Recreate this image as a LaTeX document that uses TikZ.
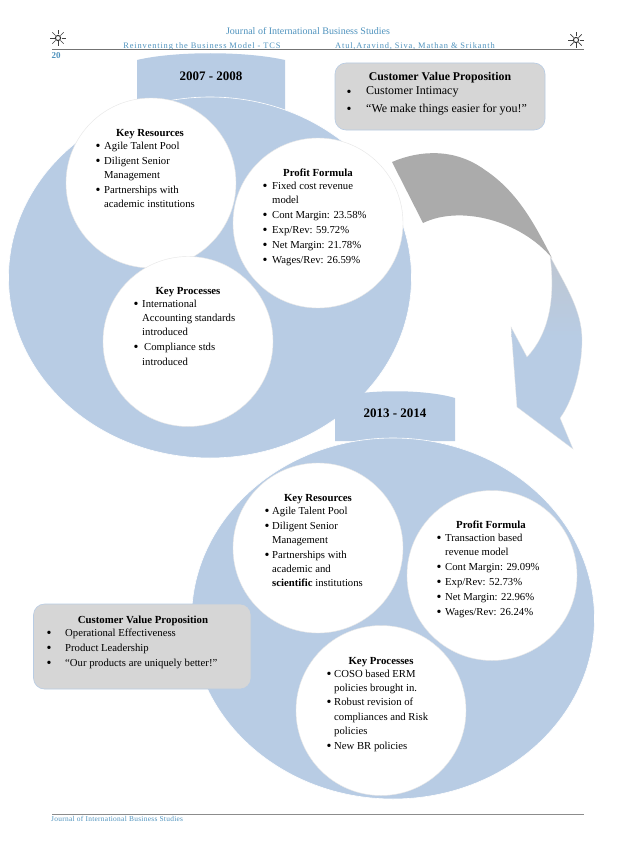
\documentclass[tikz,border=0pt]{standalone}
\usepackage{fontspec}
\setmainfont{Liberation Serif}
\usetikzlibrary{shapes.geometric}
\definecolor{bluefill}{HTML}{B8CCE4}
\definecolor{grayfill}{HTML}{D6D6D6}
\definecolor{arrowgray}{HTML}{ABABAB}
\definecolor{arrowtop}{HTML}{BEC6D1}
\definecolor{headblue}{HTML}{4F93BE}
\pgfdeclareverticalshading{arrowshade}{100bp}{color(0bp)=(bluefill); color(54bp)=(bluefill); color(75bp)=(arrowtop); color(100bp)=(arrowtop)}
\tikzset{x=1pt,y=-1pt,
 disc/.style={circle,fill=white,draw=black!10,line width=0.4pt,minimum size=170pt,inner sep=0pt},
 big/.style={ellipse,fill=bluefill,draw=white,line width=0.6pt,inner sep=0pt,minimum width=403pt,minimum height=361pt},
 txt/.style={anchor=base west,yshift=-4pt,inner sep=0pt,font=\fontsize{10.7}{12}\selectfont},
 bul/.style={inner sep=0pt,anchor=base,yshift=-5pt,font=\fontsize{14}{14}\selectfont},
 ttl/.style={anchor=base,yshift=-4pt,inner sep=0pt,font=\bfseries\fontsize{10.8}{12}\selectfont},
 ttlb/.style={anchor=base,yshift=-4pt,inner sep=0pt,font=\bfseries\fontsize{11.8}{14}\selectfont},
 yr/.style={inner sep=0pt,font=\bfseries\fontsize{13}{15}\selectfont},
 lgtxt/.style={anchor=base west,yshift=-4pt,inner sep=0pt,font=\fontsize{12}{14}\selectfont},
 head/.style={inner sep=0pt,text=headblue},
 cvp/.style={fill=grayfill,draw=bluefill,line width=0.6pt,rounded corners=11pt},
 hrule/.style={draw=black!55,line width=0.7pt}}
\begin{document}
\begin{tikzpicture}
\useasboundingbox (0,0) rectangle (638,851);
\fill[white] (0,0) rectangle (638,851);
% header
\node[head,font=\fontsize{10}{12}\selectfont] (j) at (308,31) {Journal of International Business Studies};
\node[head,font=\fontsize{8.4}{10}\selectfont\addfontfeatures{LetterSpace=10}] (h1) at (202,46) {Reinventing the Business Model - TCS};
\node[head,font=\fontsize{8.4}{10}\selectfont\addfontfeatures{LetterSpace=10}] (h2) at (415,46) {Atul,Aravind, Siva, Mathan \& Srikanth};
\coordinate (ra) at (52,49.5); \coordinate (rb) at (584,49.5);
\draw[hrule] (ra) -- (rb);
\node[head,anchor=west,font=\bfseries\fontsize{9}{10}\selectfont] (pg) at (51.5,56) {20};
\foreach \cx/\cy/\nm in {58/38/sa,576/40/sb}{
  \coordinate (\nm) at (\cx,\cy);
  \foreach \a in {0,45,...,315}{\draw[black!75,line width=0.7pt] (\nm) ++(\a:3.5) -- ++(\a:4.5);}
  \draw[black!80,line width=1pt] (\nm) circle (2.6);
}
% curved arrow
\path[fill=arrowgray] (392,162) .. controls (420,150) and (455,148) .. (485,170)
  .. controls (518,192) and (535,225) .. (552,258)
  .. controls (520,220) and (460,205) .. (423,223) -- cycle;
\path[shade,shading=arrowshade,draw=black!10,line width=0.3pt]
  (550,256) .. controls (565,285) and (582,310) .. (582,340)
  .. controls (582,370) and (572,402) .. (560,418) -- (573,449) -- (517,407) -- (511,327) -- (527,357)
  .. controls (548,335) and (556,300) .. (550,256) -- cycle;
% 2007
\path[fill=bluefill] (137,60) .. controls (175,51) and (245,51) .. (285,60) -- (285,112) -- (137,112) -- cycle;
\node[big] (e1) at (210,277.5) {};
\node[disc] (d1) at (151,183) {};
\node[disc] (d2) at (318,223) {};
\node[disc] (d3) at (188,341.5) {};
\node[yr] (y1) at (211,76) {2007 - 2008};
% CVP1
\draw[cvp] (335,63) rectangle (545,130);
\node[ttlb] at (440,77) {Customer Value Proposition};
\node[bul] at (349,91) {\textbullet}; \node[lgtxt] at (366,91) {Customer Intimacy};
\node[bul] at (349,108) {\textbullet}; \node[lgtxt] at (366,108) {“We make things easier for you!”};
% KR1
\node[ttl] at (150,132) {Key Resources};
\foreach \y in {145,160,189}{\node[bul] at (98,\y) {\textbullet};}
\foreach \y/\t in {145/Agile Talent Pool,160/Diligent Senior,174/Management,189/Partnerships with,203/academic institutions}{\node[txt] at (104,\y) {\t};}
% PF1
\node[ttl] at (318,172) {Profit Formula};
\foreach \y in {185,214,229,244,259}{\node[bul] at (265,\y) {\textbullet};}
\foreach \y/\t in {185/Fixed cost revenue,199/model,214/Cont Margin: 23.58\%,229/{Exp/Rev: 59.72\%},244/Net Margin: 21.78\%,259/{Wages/Rev: 26.59\%}}{\node[txt] at (272,\y) {\t};}
% KP1
\node[ttl] at (188,290) {Key Processes};
\foreach \y in {303,346}{\node[bul] at (136,\y) {\textbullet};}
\foreach \y/\t in {303/International,317/Accounting standards,331/introduced,361/introduced}{\node[txt] at (142,\y) {\t};}
\node[txt] at (144,346) {Compliance stds};
% 2013
\path[fill=bluefill] (335,398) .. controls (365,389) and (425,389) .. (455,398) -- (455,441) -- (335,441) -- cycle;
\node[big] (e2) at (393,618.5) {};
\node[disc] (d4) at (318,548) {};
\node[disc] (d5) at (492,575.5) {};
\node[disc] (d6) at (381,710.5) {};
\node[yr] (y2) at (395,413) {2013 - 2014};
% KR2
\node[ttl] at (318,497) {Key Resources};
\foreach \y in {510,525,554}{\node[bul] at (267,\y) {\textbullet};}
\foreach \y/\t in {510/Agile Talent Pool,525/Diligent Senior,539/Management,554/Partnerships with,568/academic and,582/{\textbf{scientific} institutions}}{\node[txt] at (272,\y) {\t};}
% PF2
\node[ttl] at (491,524) {Profit Formula};
\foreach \y in {537,566,581,596,611}{\node[bul] at (439,\y) {\textbullet};}
\foreach \y/\t in {537/Transaction based,551/revenue model,566/Cont Margin: 29.09\%,581/{Exp/Rev: 52.73\%},596/Net Margin: 22.96\%,611/{Wages/Rev: 26.24\%}}{\node[txt] at (445,\y) {\t};}
% KP2
\node[ttl] at (381,660) {Key Processes};
\foreach \y in {673,701,745}{\node[bul] at (329,\y) {\textbullet};}
\foreach \y/\t in {673/COSO based ERM,687/policies brought in.,701/Robust revision of,716/compliances and Risk,730/policies,745/New BR policies}{\node[txt] at (334,\y) {\t};}
% CVP2
\draw[cvp] (33.5,604) rectangle (251,689);
\node[ttl] at (143,619) {Customer Value Proposition};
\foreach \y/\t in {632/Operational Effectiveness,647/Product Leadership,662/“Our products are uniquely better!”}{\node[bul] at (49,\y) {\textbullet};\node[txt] at (65,\y) {\t};}
% footer
\coordinate (fa) at (52,814); \coordinate (fb) at (584,814);
\draw[draw=black!45,line width=0.6pt] (fa) -- (fb);
\node[head,anchor=west,font=\fontsize{7.4}{9}\selectfont\addfontfeatures{LetterSpace=4}] (ft) at (51,818.5) {Journal of International Business Studies};
\end{tikzpicture}
\end{document}
